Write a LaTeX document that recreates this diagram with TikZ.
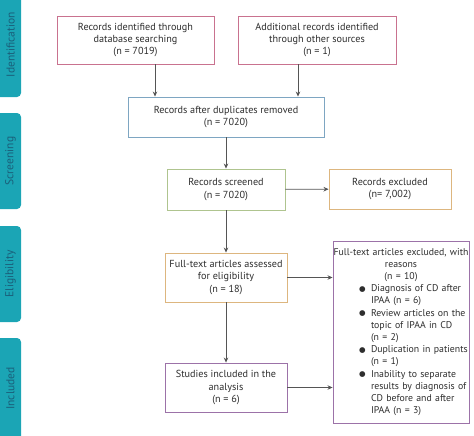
\documentclass[tikz,border=0pt]{standalone}
\usepackage{fontspec}
\setmainfont{PT Sans}
\newfontfamily\dejavu{DejaVu Sans}
\usetikzlibrary{arrows.meta,calc}
\definecolor{teal1}{HTML}{1BA5B5}
\definecolor{tealtxt}{HTML}{1A5F7A}
\definecolor{pinkb}{HTML}{C9728F}
\definecolor{blueb}{HTML}{7EA6C2}
\definecolor{greenb}{HTML}{AFC48F}
\definecolor{orangeb}{HTML}{DDB67F}
\definecolor{purpb}{HTML}{9C72A8}
\definecolor{txt}{HTML}{2E2E2E}
\definecolor{linec}{HTML}{555555}
\tikzset{
  box/.style={draw=#1, line width=0.9pt, fill=white, align=center, text=txt, inner sep=2pt,
    font=\fontsize{10.2}{12.2}\selectfont},
  arr/.style={draw=linec, line width=0.8pt, -{Stealth[length=5pt,width=4.5pt,fill=black]}},
  bar/.style={fill=teal1, rounded corners=4pt},
  barlabel/.style={rotate=90, text=tealtxt, font=\fontsize{11.5}{12}\selectfont},
}
\newcommand{\bul}{\makebox[12pt][l]{\raisebox{0.5pt}{\dejavu\fontsize{7.5}{7}\selectfont ●}}}
\newcommand{\ctr}[1]{\makebox[134pt]{#1}}
\newcommand{\itm}[1]{\hspace*{25pt}\bul\mbox{#1}}
\newcommand{\cnt}[1]{\hspace*{37pt}\mbox{#1}}
\begin{document}
\begin{tikzpicture}[x=1pt,y=-1pt]
\useasboundingbox (0,0) rectangle (474,436);
\begin{scope}
\clip (0,0) rectangle (474,436);
\fill[bar] (-6,-8) rectangle (21,97);
\fill[bar] (-6,113) rectangle (21,209);
\fill[bar] (-6,226) rectangle (21,322);
\fill[bar] (-6,338) rectangle (21,440);
\end{scope}
\node[barlabel] (l1) at (10.5,44.5) {Identification};
\node[barlabel] (l2) at (10.5,161) {Screening};
\node[barlabel] (l3) at (10.5,274) {Eligibility};
\node[barlabel] (l4) at (10.5,388.5) {Included};

\node[box=pinkb, minimum width=157, minimum height=48] (b1) at (135.5,40)
  {Records identified through\\ database searching\\ (n = 7019)};
\node[box=pinkb, minimum width=158, minimum height=48] (b2) at (317,40)
  {Additional records identified\\ through other sources\\ (n = 1)};
\node[box=blueb, minimum width=196, minimum height=40] (b3) at (226,117)
  {Records after duplicates removed\\ (n = 7020)};
\node[box=greenb, minimum width=118, minimum height=41] (b4) at (226,189.5)
  {Records screened\\ (n = 7020)};
\node[box=orangeb, minimum width=122, minimum height=40] (b5) at (390,189)
  {Records excluded\\ (n= 7,002)};
\node[box=orangeb, minimum width=122, minimum height=49] (b6) at (226,277.5)
  {Full-text articles assessed\\ for eligibility\\ (n = 18)};
\node[box=purpb, minimum width=122, minimum height=49] (b7) at (226,387.5)
  {Studies included in the\\ analysis\\ (n = 6)};
\node[box=purpb, minimum width=136, minimum height=182, text width=134pt, align=left, inner sep=1pt,
      font=\fontsize{9.8}{12.2}\selectfont] (b8) at (401,332)
  {\ctr{Full-text articles excluded, with}\\
   \ctr{reasons}\\
   \ctr{(n = 10)}\\
   \itm{Diagnosis of CD after}\\
   \cnt{IPAA (n = 6)}\\
   \itm{Review articles on the}\\
   \cnt{topic of IPAA in CD}\\
   \cnt{(n = 2)}\\
   \itm{Duplication in patients}\\
   \cnt{(n = 1)}\\
   \itm{Inability to separate}\\
   \cnt{results by diagnosis of}\\
   \cnt{CD before and after}\\
   \cnt{IPAA (n = 3)}};

\draw[arr] ([xshift=19.5pt]b1.south) -- ([xshift=19.5pt]b1.south |- b3.north);
\draw[arr] ([xshift=-19pt]b2.south) -- ([xshift=-19pt]b2.south |- b3.north);
\draw[arr] (b3) -- (b4);
\draw[arr] (b4) -- (b5);
\draw[arr] (b4) -- (b6);
\draw[arr] (b6) -- (b7);
\draw[arr] (b6.east) -- (b6.east -| b8.west);
\draw[arr] (b7.east) -- (b7.east -| b8.west);
\end{tikzpicture}
\end{document}
